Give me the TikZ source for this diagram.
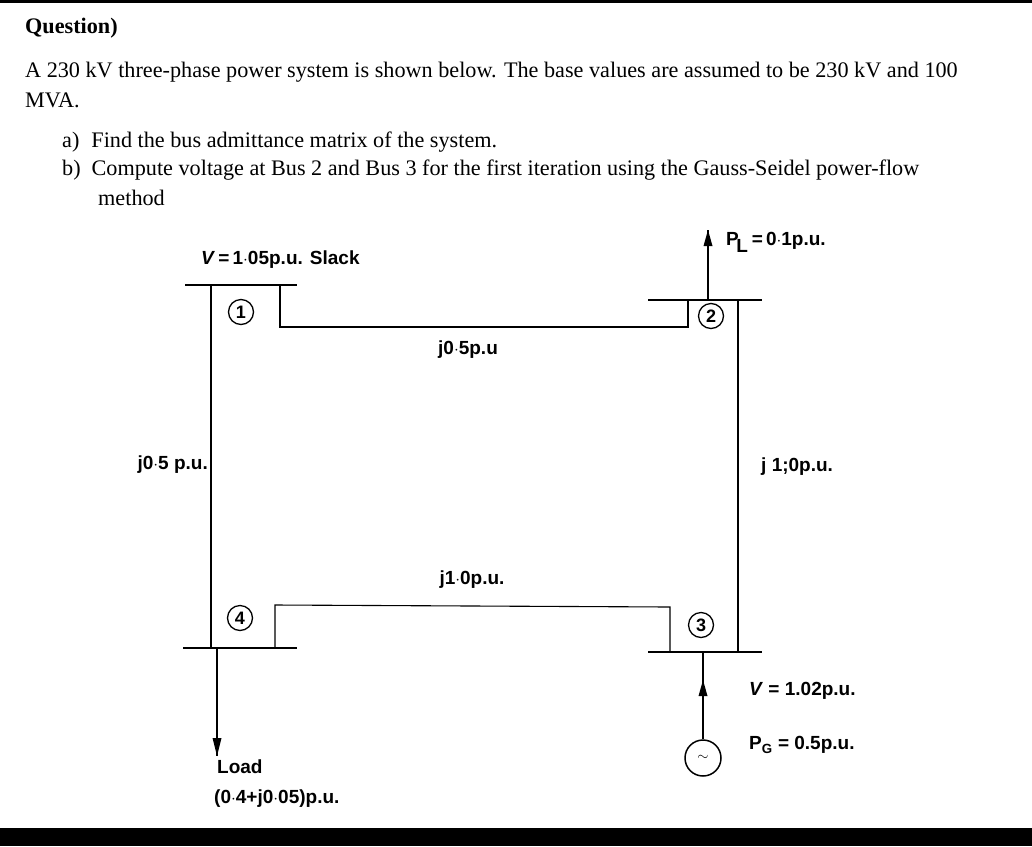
\documentclass[tikz,border=0pt]{standalone}
\usepackage{fontspec}
\setmainfont{Liberation Serif}
\newfontfamily\dia{Liberation Sans}
\begin{document}
\begin{tikzpicture}[x=1pt,y=-1pt,
  txt/.style={anchor=west,inner sep=0,font=\fontsize{22.2}{24}\selectfont},
  lab/.style={inner sep=1pt,font=\dia\bfseries\fontsize{19}{22}\selectfont},
  bus/.style={line width=1.8pt},
  wire/.style={line width=1.1pt},
  num/.style={circle,draw,line width=1.3pt,inner sep=0pt,minimum size=25pt,font=\dia\bfseries\fontsize{18}{20}\selectfont}]
\useasboundingbox (0,0) rectangle (1032,846);
\fill[white] (0,0) rectangle (1032,846);
\fill[black] (0,0) rectangle (1032,3);
\fill[black] (0,828) rectangle (1032,846);
\node[txt,font=\bfseries\fontsize{22.2}{24}\selectfont] (q) at (25,28) {Question)};
\node[txt] (p1) at (25,72) {A 230 kV three-phase power system is shown below. The base values are assumed to be 230 kV and 100};
\node[txt] (p2) at (25,100) {MVA.};
\node[txt] (a) at (62,142) {a)\hspace{12pt}Find the bus admittance matrix of the system.};
\node[txt] (b) at (62,170) {b)\hspace{11pt}Compute voltage at Bus 2 and Bus 3 for the first iteration using the Gauss-Seidel power-flow};
\node[txt] (m) at (98,198) {method};
% buses
\coordinate (b1l) at (185,285); \coordinate (b1r) at (297,285);
\coordinate (b2l) at (648,300); \coordinate (b2r) at (762,300);
\coordinate (b4l) at (183,648); \coordinate (b4r) at (297,648);
\coordinate (b3l) at (648,652); \coordinate (b3r) at (762,652);
\draw[bus] (b1l) -- (b1r);
\draw[bus] (b2l) -- (b2r);
\draw[bus] (b4l) -- (b4r);
\draw[bus] (b3l) -- (b3r);
% lines
\draw[wire] (211,285) -- (211,648);
\draw[wire] (738,300) -- (738,652);
\draw[wire] (280,285) -- (280,327) -- (688,327) -- (688,300);
\draw[wire] (275,648) -- (275,605) -- (670,607) -- (670,652);
% PL arrow
\coordinate (pl) at (708,230);
\draw[wire] (708,300) -- (pl);
\fill (pl) -- ++(-4.5,16) -- ++(9,0) -- cycle;
\node[lab,anchor=west] (plt) at (725,242) {P$_{\!\mbox{\dia\bfseries L}}$\,=\,0$\cdot$1p.u.};
\node[lab,anchor=west] (vs) at (200,260) {\textit{V}\,=\,1$\cdot$05p.u. Slack};
% load
\coordinate (ld) at (217,756);
\draw[wire] (217,648) -- (ld);
\fill (ld) -- ++(-4.5,-18) -- ++(9,0) -- cycle;
\node[lab,anchor=west] (lt) at (216,767) {Load};
\node[lab,anchor=west] (lv) at (213,799) {(0$\cdot$4+j0$\cdot$05)p.u.};
% generator
\node[circle,draw,line width=1.5pt,minimum size=36pt,inner sep=0] (g) at (703,758) {\dia\bfseries\Large$\sim$};
\coordinate (ga) at (703,680);
\draw[wire] (g.north) -- (703,652);
\fill (ga) -- ++(-4.5,16) -- ++(9,0) -- cycle;
\node[lab,anchor=west] (vg) at (748,691) {\textit{V} = 1.02p.u.};
\node[lab,anchor=west] (pg) at (748,745) {P\textsubscript{G} = 0.5p.u.};
% labels
\node[lab] (l12) at (468,350) {j0$\cdot$5p.u};
\node[lab,anchor=east] (l14) at (209,465) {j0$\cdot$5 p.u.};
\node[lab,anchor=west] (l23) at (760,467) {j 1;0p.u.};
\node[lab] (l43) at (472,580) {j1$\cdot$0p.u.};
\node[num] (n1) at (241,312) {1};
\node[num] (n2) at (711,316) {2};
\node[num] (n4) at (240,618) {4};
\node[num] (n3) at (701,625) {3};
\end{tikzpicture}
\end{document}
